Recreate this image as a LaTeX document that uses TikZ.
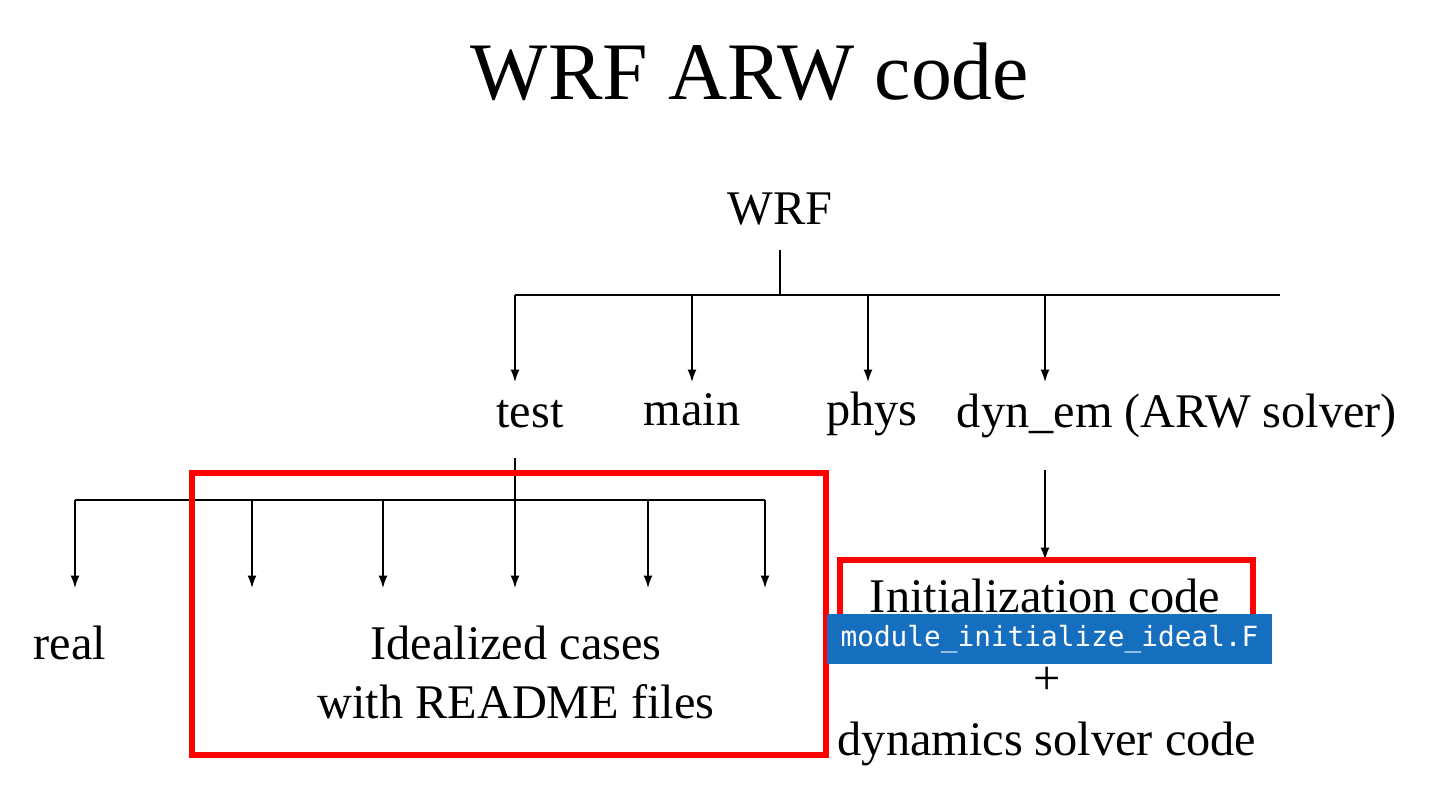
\documentclass[tikz,border=0pt]{standalone}
\usepackage{fontspec}
\setmainfont{Liberation Serif}
\newfontfamily\codefont{DejaVu Sans Mono}
\usetikzlibrary{positioning,arrows.meta}
\begin{document}
\begin{tikzpicture}[x=0.02cm,y=-0.02cm]
    \tikzset{
      lbl/.style={font=\fontsize{27.5}{32}\selectfont,inner sep=0pt,anchor=base},
      arr/.style={-{Latex[length=7pt,width=5pt]},line width=0.8pt},
      ln/.style={line width=0.8pt},
      redbox/.style={draw=red,line width=3.2pt}
    }
    \useasboundingbox (0,0) rectangle (1440,798);

    %Title
    \node[font=\fontsize{46.5}{52}\selectfont] (title) at (750,72) {WRF ARW code};

    %Top level
    \node[lbl] (wrf) at (780,224) {WRF};
    \coordinate (wrfb) at (780,250);
    \coordinate (bus) at (780,295);
    \draw[ln] (wrfb) -- (bus);
    \draw[ln] (515,295) coordinate (busl) -- (1280,295) coordinate (busr);

    %Directories
    \node[lbl] (test) at (530,427) {test};
    \node[lbl] (main) at (692,425) {main};
    \node[lbl] (phys) at (872,425) {phys};
    \node[lbl] (dyn) at (1177,427) {dyn\_em (ARW solver)};
    \foreach \x/\n in {515/a,692/b,868/c,1045/d}
      \draw[arr] (\x,295) -- (\x,382);

    %Test cases
    \coordinate (testb) at (515,458);
    \draw[ln] (75,500) -- (765,500);
    \draw[ln] (testb) -- (515,500);
    \foreach \x in {75,252,383,515,648,765}
      \draw[arr] (\x,500) -- (\x,588);
    \node[lbl] (real) at (70,659) {real};
    \node[lbl] (ideal) at (516,659) {Idealized cases};
    \node[lbl] (readme) at (516,718) {with README files};
    \draw[redbox] (192,473) rectangle (826,755);

    %Solver
    \coordinate (dynb) at (1045,470);
    \coordinate (init) at (1045,560);
    \draw[arr] (dynb) -- (init);
    \draw[redbox] (840,560) rectangle (1253,650);
    \node[lbl] (initc) at (1045,612) {Initialization code};
    \node[fill={rgb,255:red,22;green,110;blue,190},
          text=white,font=\codefont\fontsize{15.8}{18}\selectfont,
          minimum width=8.9cm,minimum height=1cm,inner sep=0pt] (mod) at (1049.5,639) {module\_initialize\_ideal.F};
    \node[lbl] (plus) at (1047,694) {+};
    \node[lbl] (dsc) at (1047,755) {dynamics solver code};
\end{tikzpicture}
\end{document}
